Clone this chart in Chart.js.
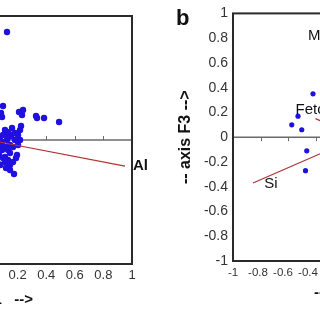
<!DOCTYPE html>
<html><head><meta charset="utf-8">
<script src="https://cdn.jsdelivr.net/npm/chart.js@4/dist/chart.umd.min.js"></script>
<style>
html,body{margin:0;padding:0;background:#fff;}
#wrap{position:relative;width:320px;height:320px;overflow:hidden;background:#fff;}
canvas{position:absolute;top:0;}
#ca{left:-170px;}
#cb{left:160px;}
#lb{position:absolute;left:176px;top:7px;font:bold 22px/22px "Liberation Sans",Arial,sans-serif;color:#111;}
</style></head><body>
<div id="wrap">
<canvas id="ca" width="330" height="320"></canvas>
<canvas id="cb" width="345" height="320"></canvas>
<div id="lb">b</div>
</div>
<script>
// ---- data: panel a ----
const xA = [0.126,0.098,0.084,0.091,0.210,0.238,0.231,0.329,0.336,0.385,0.490,0.224,0.126,0.098,0.133,0.203,0.182,0.126,0.091,0.147,0.112,0.168,0.091,0.147,0.112,0.168,0.112,0.147,0.175,0.196,0.077,0.217,0.070,0.070,0.080,0.155,0.140,
            0.112,0.161,0.182,0.077,0.133,0.203,0.217,0.098,0.133,0.189,0.077,0.147,0.119];
const yA = [0.871,0.274,0.218,0.185,0.226,0.242,0.202,0.194,0.177,0.177,0.145,0.113,0.065,0.040,0.024,0.040,0.000,0.000,-0.016,-0.040,-0.056,-0.056,-0.081,-0.105,-0.137,-0.177,-0.177,-0.202,-0.274,-0.121,0.016,0.081,-0.030,-0.120,-0.200,0.030,0.050,
            0.081,0.097,0.056,-0.040,-0.081,-0.040,0.000,-0.145,-0.161,-0.145,-0.202,-0.242,-0.226];
const vecXA = [0.951];
const vecYA = [-0.21];
const labelTextA = ['Al'];
const labelXA = [1.007];
const labelYA = [-0.21];
const xTicksA = [-1,-0.8,-0.6,-0.4,-0.2,0,0.2,0.4,0.6,0.8,1];
const innerTicksA = [-0.8,-0.6,-0.4,-0.2,0.2,0.4,0.6,0.8];

// ---- data: panel b (axis F2 vs F3) ----
const xB = [-0.36,-0.48,-0.53,-0.45,-0.41,-0.42];
const yB = [0.35,0.17,0.10,0.06,-0.11,-0.27];
const vecXB = [-0.84,-0.34];
const vecYB = [-0.37,0.15];
const labelTextB = ['Mn','Fetot','Si'];
const labelXB = [-0.40,-0.50,-0.75];
const labelYB = [0.82,0.22,-0.38];
const xTicksB = [-1,-0.8,-0.6,-0.4,-0.2,0,0.2,0.4,0.6,0.8,1];
const yTicksB = [-1,-0.8,-0.6,-0.4,-0.2,0,0.2,0.4,0.6,0.8,1];
const innerTicksB = [-0.78,-0.56,-0.34,-0.12];

const FONT = '"Liberation Sans", Arial, sans-serif';
Chart.defaults.font.family = FONT;
const fmt = v => String(Math.round(v*10)/10);
const dotColor = '#2010e0';
const vecColor = '#b03434';

function vecDatasets(vx, vy){
  return vx.map((x,i)=>({type:'scatter', data:[{x:0,y:0},{x:x,y:vy[i]}], showLine:true,
    borderColor:vecColor, borderWidth:1.2, pointRadius:0, pointHoverRadius:0}));
}

function makePlugin(innerTicks, tickDir, texts, tx, ty, textFont){
  return {
    id:'deco',
    beforeDatasetsDraw(chart){
      const {ctx, chartArea:a, scales:{x,y}} = chart;
      const y0 = y.getPixelForValue(0);
      ctx.save();
      ctx.strokeStyle = '#6a6a6a'; ctx.lineWidth = 1.5;
      ctx.beginPath(); ctx.moveTo(a.left, y0); ctx.lineTo(a.right, y0); ctx.stroke();
      ctx.lineWidth = 1;
      innerTicks.forEach(v=>{
        const px = Math.round(x.getPixelForValue(v))+0.5;
        ctx.beginPath(); ctx.moveTo(px, y0); ctx.lineTo(px, y0 + tickDir*4); ctx.stroke();
      });
      ctx.restore();
    },
    afterDraw(chart){
      const {ctx, chartArea:a, scales:{x,y}} = chart;
      ctx.save();
      ctx.strokeStyle = '#2a2a2a'; ctx.lineWidth = 2;
      ctx.strokeRect(a.left, a.top, a.right-a.left, a.bottom-a.top);
      ctx.fillStyle = '#111'; ctx.font = textFont; ctx.textAlign='left'; ctx.textBaseline='middle';
      texts.forEach((t,i)=>{ ctx.fillText(t, x.getPixelForValue(tx[i]), y.getPixelForValue(ty[i])); });
      ctx.restore();
    }
  };
}

// Panel a
new Chart(document.getElementById('ca'), {
  type:'scatter',
  data:{datasets:[
    ...vecDatasets(vecXA, vecYA),
    {data:xA.map((x,i)=>({x:x,y:yA[i]})), backgroundColor:dotColor, borderWidth:0, pointRadius:3.2}
  ]},
  options:{
    responsive:false, animation:false, events:[],
    layout:{padding:{left:16,right:28,top:16,bottom:0}},
    plugins:{legend:{display:false}, tooltip:{enabled:false}},
    scales:{
      x:{type:'linear', min:-1, max:1,
        afterBuildTicks:s=>{s.ticks = xTicksA.map(v=>({value:v}));},
        afterFit:s=>{s.height = 56;},
        grid:{display:false, drawTicks:false}, border:{display:false},
        ticks:{callback:fmt, font:{size:13}, color:'#333', padding:4, maxRotation:0, autoSkip:false},
        title:{display:true, text:'-- axis F1   -->  ', font:{size:15, weight:'bold'}, color:'#111', padding:{top:0,bottom:11}}
      },
      y:{type:'linear', min:-1, max:1, display:false}
    }
  },
  plugins:[makePlugin(innerTicksA, -1, labelTextA, labelXA, labelYA, 'bold 15px '+FONT)]
});

// Panel b
new Chart(document.getElementById('cb'), {
  type:'scatter',
  data:{datasets:[
    ...vecDatasets(vecXB, vecYB),
    {data:xB.map((x,i)=>({x:x,y:yB[i]})), backgroundColor:dotColor, borderWidth:0, pointRadius:2.6}
  ]},
  options:{
    responsive:false, animation:false, events:[],
    layout:{padding:{left:0,right:22,top:13,bottom:0}},
    plugins:{legend:{display:false}, tooltip:{enabled:false}},
    scales:{
      x:{type:'linear', min:-1, max:1,
        afterBuildTicks:s=>{s.ticks = xTicksB.map(v=>({value:v}));},
        afterFit:s=>{s.height = 59;},
        grid:{display:false, drawTicks:false}, border:{display:false},
        ticks:{callback:fmt, font:{size:11.5}, color:'#333', padding:5, maxRotation:0, autoSkip:false},
        title:{display:true, text:'-- axis F2 -->', font:{size:15, weight:'bold'}, color:'#111', padding:{top:0,bottom:18}}
      },
      y:{type:'linear', min:-1, max:1,
        afterBuildTicks:s=>{s.ticks = yTicksB.map(v=>({value:v}));},
        afterFit:s=>{s.width = 73;},
        grid:{display:false, drawTicks:false}, border:{display:false},
        ticks:{callback:fmt, font:{size:14}, color:'#333', padding:5, autoSkip:false},
        title:{display:true, text:'-- axis F3 -->', font:{size:16, weight:'bold'}, color:'#111', padding:{top:16,bottom:0}}
      }
    }
  },
  plugins:[makePlugin(innerTicksB, 1, labelTextB, labelXB, labelYB, '15px '+FONT)]
});
</script>
</body></html>
